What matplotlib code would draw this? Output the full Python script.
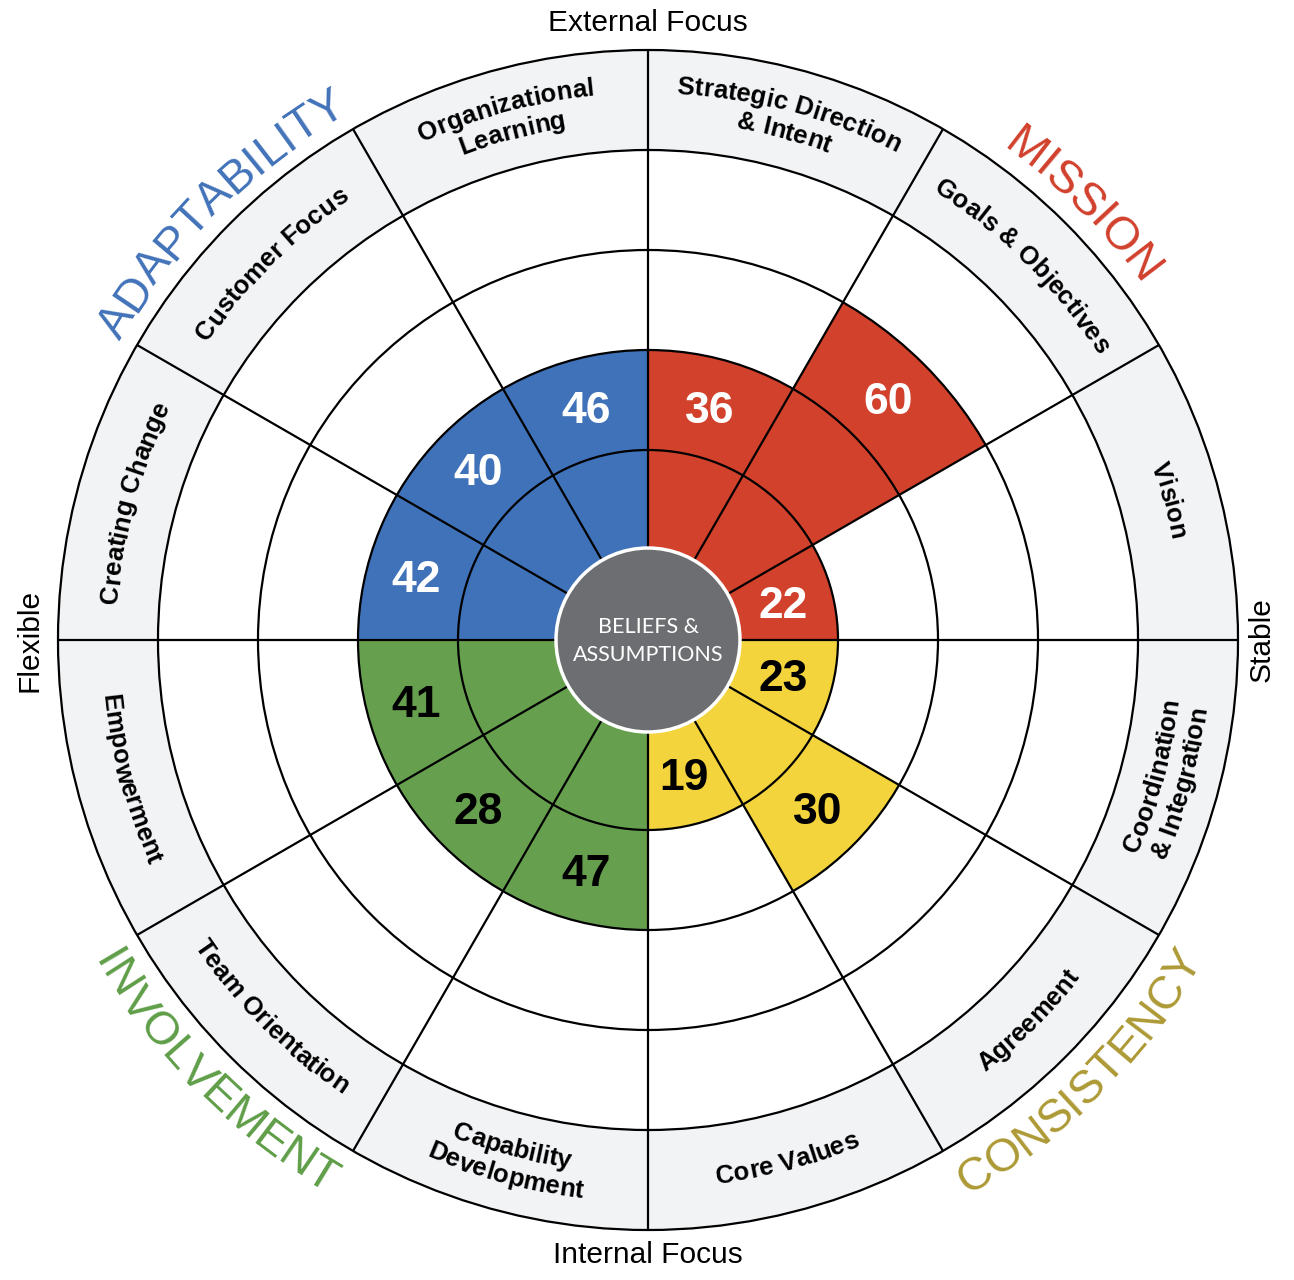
import numpy as np
import matplotlib
matplotlib.use("Agg")
import matplotlib.pyplot as plt
from matplotlib.patches import Wedge, Circle
from matplotlib.font_manager import FontProperties, findfont, get_font

# Data (clockwise from the top)
segments = [
    ["Strategic Direction", "& Intent"],
    ["Goals & Objectives"],
    ["Vision"],
    ["Coordination", "& Integration"],
    ["Agreement"],
    ["Core Values"],
    ["Capability", "Development"],
    ["Team Orientation"],
    ["Empowerment"],
    ["Creating Change"],
    ["Customer Focus"],
    ["Organizational", "Learning"],
]
scores = [36, 60, 22, 23, 30, 19, 47, 28, 41, 42, 40, 46]
traits = ["MISSION", "CONSISTENCY", "INVOLVEMENT", "ADAPTABILITY"]
trait_of_segment = [0, 0, 0, 1, 1, 1, 2, 2, 2, 3, 3, 3]
axis_labels = ["External Focus", "Stable", "Internal Focus", "Flexible"]

fill_colors = ["#d1412b", "#f3d43c", "#66a04f", "#3f72b8"]
trait_colors = ["#d1402c", "#ad9a36", "#5f9e48", "#4272b9"]
value_colors = ["white", "black", "black", "white"]

W, H = 1294, 1280
cx, cy = 648, 640
R_CORE = 92
RINGS = [190, 290, 390, 490]
R_OUT = 590
DPI = 100

fig = plt.figure(figsize=(W / DPI, H / DPI), dpi=DPI)
ax = fig.add_axes([0, 0, 1, 1])
ax.set_xlim(-cx, W - cx)
ax.set_ylim(-(H - cy), cy)
ax.axis("off")


def band_radius(v):
    # quartile band that the score falls into
    level = int(np.ceil(v / 25.0))
    return RINGS[level - 1], level


def mid_angle(i):
    a = 90 - 15 - 30 * i
    return (a + 180) % 360 - 180


def advances(s, fp):
    font = get_font(findfont(fp))
    font.set_size(fp.get_size_in_points(), DPI)
    out = []
    for c in s:
        g = font.load_char(ord(c))
        out.append(g.linearHoriAdvance / 65536.0)
    return out


def arc_text(s, r, theta_mid, clockwise, fp, color):
    adv = advances(s, fp)
    total = sum(adv)
    pos = 0.0
    for c, a in zip(s, adv):
        mid = pos + a / 2 - total / 2
        pos += a
        if c == " ":
            continue
        d = np.degrees(mid / r)
        if clockwise:
            th = theta_mid - d
            rot = th - 90
        else:
            th = theta_mid + d
            rot = th + 90
        t = np.radians(th)
        ax.text(r * np.cos(t), r * np.sin(t), c, rotation=rot,
                rotation_mode="anchor", ha="center", va="baseline",
                fontproperties=fp, color=color)


lw = 1.6

# label ring
ax.add_patch(Wedge((0, 0), R_OUT, 0, 360, width=R_OUT - RINGS[-1],
                   facecolor="#f2f3f5", edgecolor="none", zorder=1))

# score wedges
n = len(scores)
for i, v in enumerate(scores):
    mid = mid_angle(i)
    r, level = band_radius(v)
    k = trait_of_segment[i]
    ax.add_patch(Wedge((0, 0), r, mid - 15, mid + 15,
                       facecolor=fill_colors[k], edgecolor="none", zorder=2))

# grid circles
for r in RINGS + [R_OUT]:
    ax.add_patch(Circle((0, 0), r, fill=False, edgecolor="black",
                        linewidth=lw, zorder=3))

# spokes
for i in range(n):
    a = np.radians(90 - 30 * i)
    ax.plot([0, R_OUT * np.cos(a)], [0, R_OUT * np.sin(a)],
            color="black", linewidth=lw, zorder=3, solid_capstyle="butt")

# core circle
ax.add_patch(Circle((0, 0), R_CORE, facecolor="#6d6e71", edgecolor="white",
                    linewidth=2.5, zorder=5))
ax.text(0, -1, "BELIEFS &\nASSUMPTIONS", ha="center", va="center",
        color="white", fontsize=15.5, family="Lato", weight="normal",
        linespacing=1.45, zorder=6)

# score values
val_fp = FontProperties(family="Liberation Sans", weight="bold", size=32)
for i, v in enumerate(scores):
    mid = np.radians(mid_angle(i))
    r, level = band_radius(v)
    rl = r - 50
    k = trait_of_segment[i]
    ax.text(rl * np.cos(mid), rl * np.sin(mid) - 3, str(v), ha="center",
            va="center", fontproperties=val_fp, color=value_colors[k],
            zorder=4)

# segment names on the ring
seg_fp = FontProperties(family="Liberation Sans", weight="bold", size=18.5)
for i, lines in enumerate(segments):
    mid = mid_angle(i)
    upper = mid > 0
    if upper:
        radii = [532] if len(lines) == 1 else [547, 519]
    else:
        radii = [548] if len(lines) == 1 else [534, 562]
    for txt, r in zip(lines, radii):
        arc_text(txt, r, mid, upper, seg_fp, "black")

# trait names outside
trait_fp = FontProperties(family="Liberation Sans", size=33.5)
trait_mid = [45, -45, -135, 135]
for name, m, col in zip(traits, trait_mid, trait_colors):
    if m > 0:
        arc_text(name, 607, m, True, trait_fp, col)
    else:
        arc_text(name, 640, m, False, trait_fp, col)

# axis labels
ax_fs = 21.5
ax.text(0, 640 - 23, axis_labels[0], ha="center", va="center",
        fontsize=ax_fs, family="Liberation Sans")
ax.text(0, 640 - 1255, axis_labels[2], ha="center", va="center",
        fontsize=ax_fs, family="Liberation Sans")
ax.text(1262 - cx, 0, axis_labels[1], ha="center", va="center",
        rotation=90, fontsize=ax_fs, family="Liberation Sans")
ax.text(30 - cx, 0, axis_labels[3], ha="center", va="center",
        rotation=90, fontsize=ax_fs, family="Liberation Sans")

fig.savefig("out.png", dpi=DPI, facecolor="white")
